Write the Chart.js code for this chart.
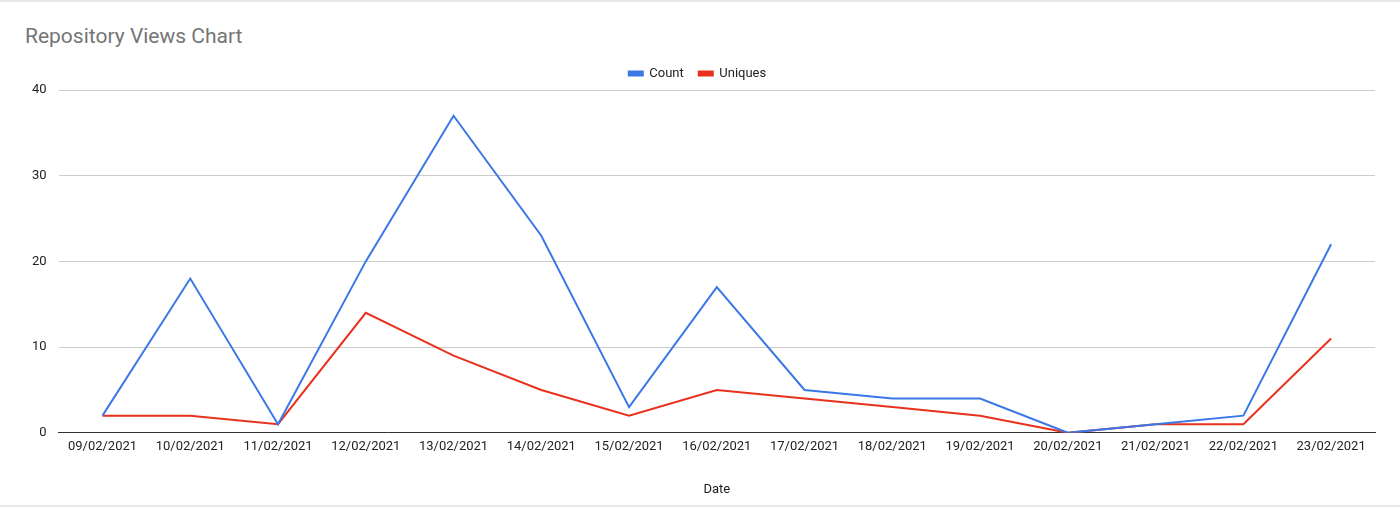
<!DOCTYPE html>
<html>
<head>
<meta charset="utf-8">
<script src="https://cdn.jsdelivr.net/npm/chart.js@4/dist/chart.umd.min.js"></script>
<style>
  html, body { margin: 0; padding: 0; background: #fff; }
  #wrap { position: relative; width: 1400px; height: 507px; box-sizing: border-box; border-top: 2px solid #e8e8e8; border-bottom: 2px solid #e8e8e8; }
  #title { position: absolute; left: 25px; top: 22px; font-family: Roboto, Arial, sans-serif; font-size: 21px; color: #757575; }
  #chartBox { position: absolute; left: 0; top: 50px; width: 1400px; height: 450px; }
</style>
</head>
<body>
<div id="wrap">
  <div id="title">Repository Views Chart</div>
  <div id="chartBox"><canvas id="lineChart"></canvas></div>
</div>
<script>
var dates = ["09/02/2021", "10/02/2021", "11/02/2021", "12/02/2021", "13/02/2021", "14/02/2021", "15/02/2021",
    "16/02/2021", "17/02/2021", "18/02/2021", "19/02/2021", "20/02/2021", "21/02/2021", "22/02/2021", "23/02/2021"];
var countValues = [2, 18, 1, 20, 37, 23, 3, 17, 5, 4, 4, 0, 1, 2, 22];
var uniqueValues = [2, 2, 1, 14, 9, 5, 2, 5, 4, 3, 2, 0, 1, 1, 11];
var yTicks = [0, 10, 20, 30, 40];

$ = null;
(function () {
    var ctx = document.getElementById("lineChart");

    var data = {
        labels: dates,
        datasets: [
            {
                label: "Count",
                data: countValues,
                borderColor: "#3b78e7",
                backgroundColor: "#3b78e7",
                borderWidth: 2,
                pointRadius: 0,
                tension: 0
            },
            {
                label: "Uniques",
                data: uniqueValues,
                borderColor: "#e8321e",
                backgroundColor: "#e8321e",
                borderWidth: 2,
                pointRadius: 0,
                tension: 0
            }
        ]
    };

    var options = {
        responsive: true,
        maintainAspectRatio: false,
        animation: false,
        layout: { padding: { left: 20, right: 25, top: 0, bottom: 0 } },
        plugins: {
            legend: {
                display: true,
                position: "top",
                labels: {
                    boxWidth: 14,
                    boxHeight: 4,
                    color: "#222",
                    font: { family: "Roboto, Arial, sans-serif", size: 13 },
                    padding: 15
                }
            },
            tooltip: { enabled: false }
        },
        scales: {
            x: {
                offset: true,
                grid: { display: false, drawTicks: false },
                border: { color: "#333", width: 1 },
                ticks: {
                    color: "#222", maxRotation: 0, autoSkip: false, padding: 6,
                    font: { family: "Roboto, Arial, sans-serif", size: 13 }
                },
                title: {
                    display: true, text: "Date", color: "#222", padding: { top: 22 },
                    font: { family: "Roboto, Arial, sans-serif", size: 13 }
                }
            },
            y: {
                min: 0,
                max: 40,
                afterBuildTicks: function (axis) {
                    axis.ticks = yTicks.map(function (v) { return { value: v }; });
                },
                grid: { color: "#cccccc", drawTicks: false },
                border: { display: false },
                ticks: {
                    color: "#222", padding: 12,
                    font: { family: "Roboto, Arial, sans-serif", size: 13 }
                }
            }
        }
    };

    new Chart(ctx, { type: "line", data: data, options: options });
})();
</script>
</body>
</html>
